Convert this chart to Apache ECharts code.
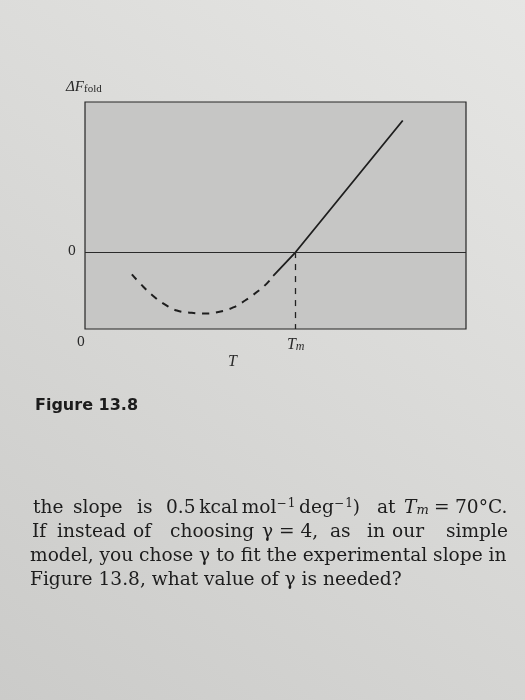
<!DOCTYPE html>
<html><head><meta charset="utf-8">
<script src="https://cdn.jsdelivr.net/npm/echarts@6/dist/echarts.min.js"></script>
<style>html,body{margin:0;padding:0;width:525px;height:700px;overflow:hidden;background:#dcdcda;}#c{width:525px;height:700px;}</style>
</head><body><div id="c"></div><script>
// ---- data ----
const xMin = 0, xMax = 100;
const yMin = -1, yMax = 1.95;
const tm = 55.3;
const xTickValues = [0, tm];
const yTickValues = [0];
const foldedT = [49.4, 55.3, 83.4];
const foldedF = [-0.31, 0, 1.71];
const curveT = [12.3, 15.3, 17.9, 20.6, 24.1, 28.0, 31.5, 35.0, 38.9, 42.0, 45.1, 47.7, 49.4];
const curveF = [-0.29, -0.45, -0.57, -0.67, -0.76, -0.79, -0.80, -0.78, -0.72, -0.63, -0.52, -0.41, -0.31];

// ---- page text ----
const line1 = ['the', 'slope', 'is', '0.5\u2009kcal\u2009mol{sup|\u2212\u200A1}\u2009deg{sup|\u2212\u200A1})', 'at', '{i|T}{s|m}', '=', '70°C.'];
const line2 = ['If', 'instead', 'of', 'choosing', 'γ = 4,', 'as', 'in', 'our', 'simple'];
const line3 = 'model, you chose γ to fit the experimental slope in';
const line4 = 'Figure 13.8, what value of γ is needed?';

// layout (not data)
const line1X = [33, 73, 137, 166, 377, 404, 434, 455];
const line2X = [32, 57, 133, 170, 262, 330, 367, 392, 446];
const lineY = [508, 532, 556, 580];
const bodyFont = '18.6px "DejaVu Serif"';
const ink = '#1d1d1d';

const chart = echarts.init(document.getElementById('c'));

const richBody = {
  i: { fontFamily: 'DejaVu Serif', fontStyle: 'italic', fontSize: 18.6, fill: ink, color: ink },
  s: { fontFamily: 'DejaVu Serif', fontStyle: 'italic', fontSize: 13, fill: ink, color: ink, padding: [6, 0, 0, 0] },
  sup: { fontFamily: 'DejaVu Serif', fontSize: 12, fill: ink, color: ink, padding: [0, 0, 9, 0] }
};

const graphics = [];
line1.forEach((w, k) => graphics.push({
  type: 'text', style: { text: w, x: line1X[k], y: lineY[0], font: bodyFont, fill: ink, verticalAlign: 'middle', rich: richBody }
}));
line2.forEach((w, k) => graphics.push({
  type: 'text', style: { text: w, x: line2X[k], y: lineY[1], font: bodyFont, fill: ink, verticalAlign: 'middle' }
}));
graphics.push({ type: 'text', style: { text: line3, x: 30, y: lineY[2], font: bodyFont, fill: ink, verticalAlign: 'middle' } });
graphics.push({ type: 'text', style: { text: line4, x: 30, y: lineY[3], font: bodyFont, fill: ink, verticalAlign: 'middle' } });

const option = {
  animation: false,
  backgroundColor: new echarts.graphic.LinearGradient(1, 0, 0, 1, [
    { offset: 0, color: '#e6e6e4' },
    { offset: 1, color: '#cbcbc9' }
  ]),
  title: [
    {
      text: '{d|ΔF}{s|fold}', left: 66, top: 79, padding: 0,
      textStyle: {
        fontWeight: 'normal',
        rich: {
          d: { fontFamily: 'Liberation Serif', fontStyle: 'italic', fontWeight: 'normal', fontSize: 15, color: '#262626' },
          s: { fontFamily: 'Liberation Serif', fontWeight: 'normal', fontSize: 11, color: '#262626', padding: [5, 0, 0, 0] }
        }
      }
    },
    {
      text: 'Figure 13.8', left: 35, top: 398, padding: 0,
      textStyle: { fontFamily: 'DejaVu Sans', fontWeight: 'bold', fontSize: 16, color: '#1c1c1c' }
    }
  ],
  grid: {
    left: 85, right: 59, top: 102, bottom: 371,
    show: true, backgroundColor: '#c6c6c5', borderColor: '#262626', borderWidth: 1.2
  },
  xAxis: {
    type: 'value', min: xMin, max: xMax,
    axisLine: { show: false }, axisTick: { show: false }, splitLine: { show: false },
    axisLabel: {
      customValues: xTickValues, margin: 7,
      formatter: v => v === 0 ? '{z|0}' : '{t|T}{m|m}',
      rich: {
        z: { fontFamily: 'DejaVu Serif', fontSize: 13, color: '#2a2a2a', padding: [0, 8, 0, 0] },
        t: { fontFamily: 'Liberation Serif', fontStyle: 'italic', fontSize: 16, color: '#2a2a2a' },
        m: { fontFamily: 'Liberation Serif', fontStyle: 'italic', fontSize: 12, color: '#2a2a2a', padding: [5, 0, 0, 0] }
      }
    },
    name: 'T', nameLocation: 'middle', nameGap: 25,
    nameTextStyle: { fontFamily: 'Liberation Serif', fontStyle: 'italic', fontSize: 16, color: '#2a2a2a', padding: [0, 86, 0, 0] }
  },
  yAxis: {
    type: 'value', min: yMin, max: yMax,
    axisLine: { show: false }, axisTick: { show: false }, splitLine: { show: false },
    axisLabel: { customValues: yTickValues, margin: 9, fontFamily: 'DejaVu Serif', fontSize: 13, color: '#2a2a2a' }
  },
  series: [
    {
      type: 'line', data: foldedT.map((t, k) => [t, foldedF[k]]),
      symbol: 'none', lineStyle: { color: '#1e1e1e', width: 1.8 },
      z: 3,
      markLine: {
        silent: true, symbol: ['none', 'none'], label: { show: false },
        data: [
          { yAxis: 0, lineStyle: { color: '#2a2a2a', width: 1.1, type: 'solid' } },
          [
            { coord: [tm, 0], lineStyle: { color: '#222', width: 1.3, type: [6, 6] } },
            { coord: [tm, yMin], lineStyle: { color: '#222', width: 1.3, type: [6, 6] } }
          ]
        ]
      }
    },
    {
      type: 'line', data: curveT.map((t, k) => [t, curveF[k]]),
      smooth: true, symbol: 'none',
      lineStyle: { color: '#1e1e1e', width: 2, type: [7, 7] }
    }
  ],
  graphic: graphics
};
chart.setOption(option);
</script></body></html>
